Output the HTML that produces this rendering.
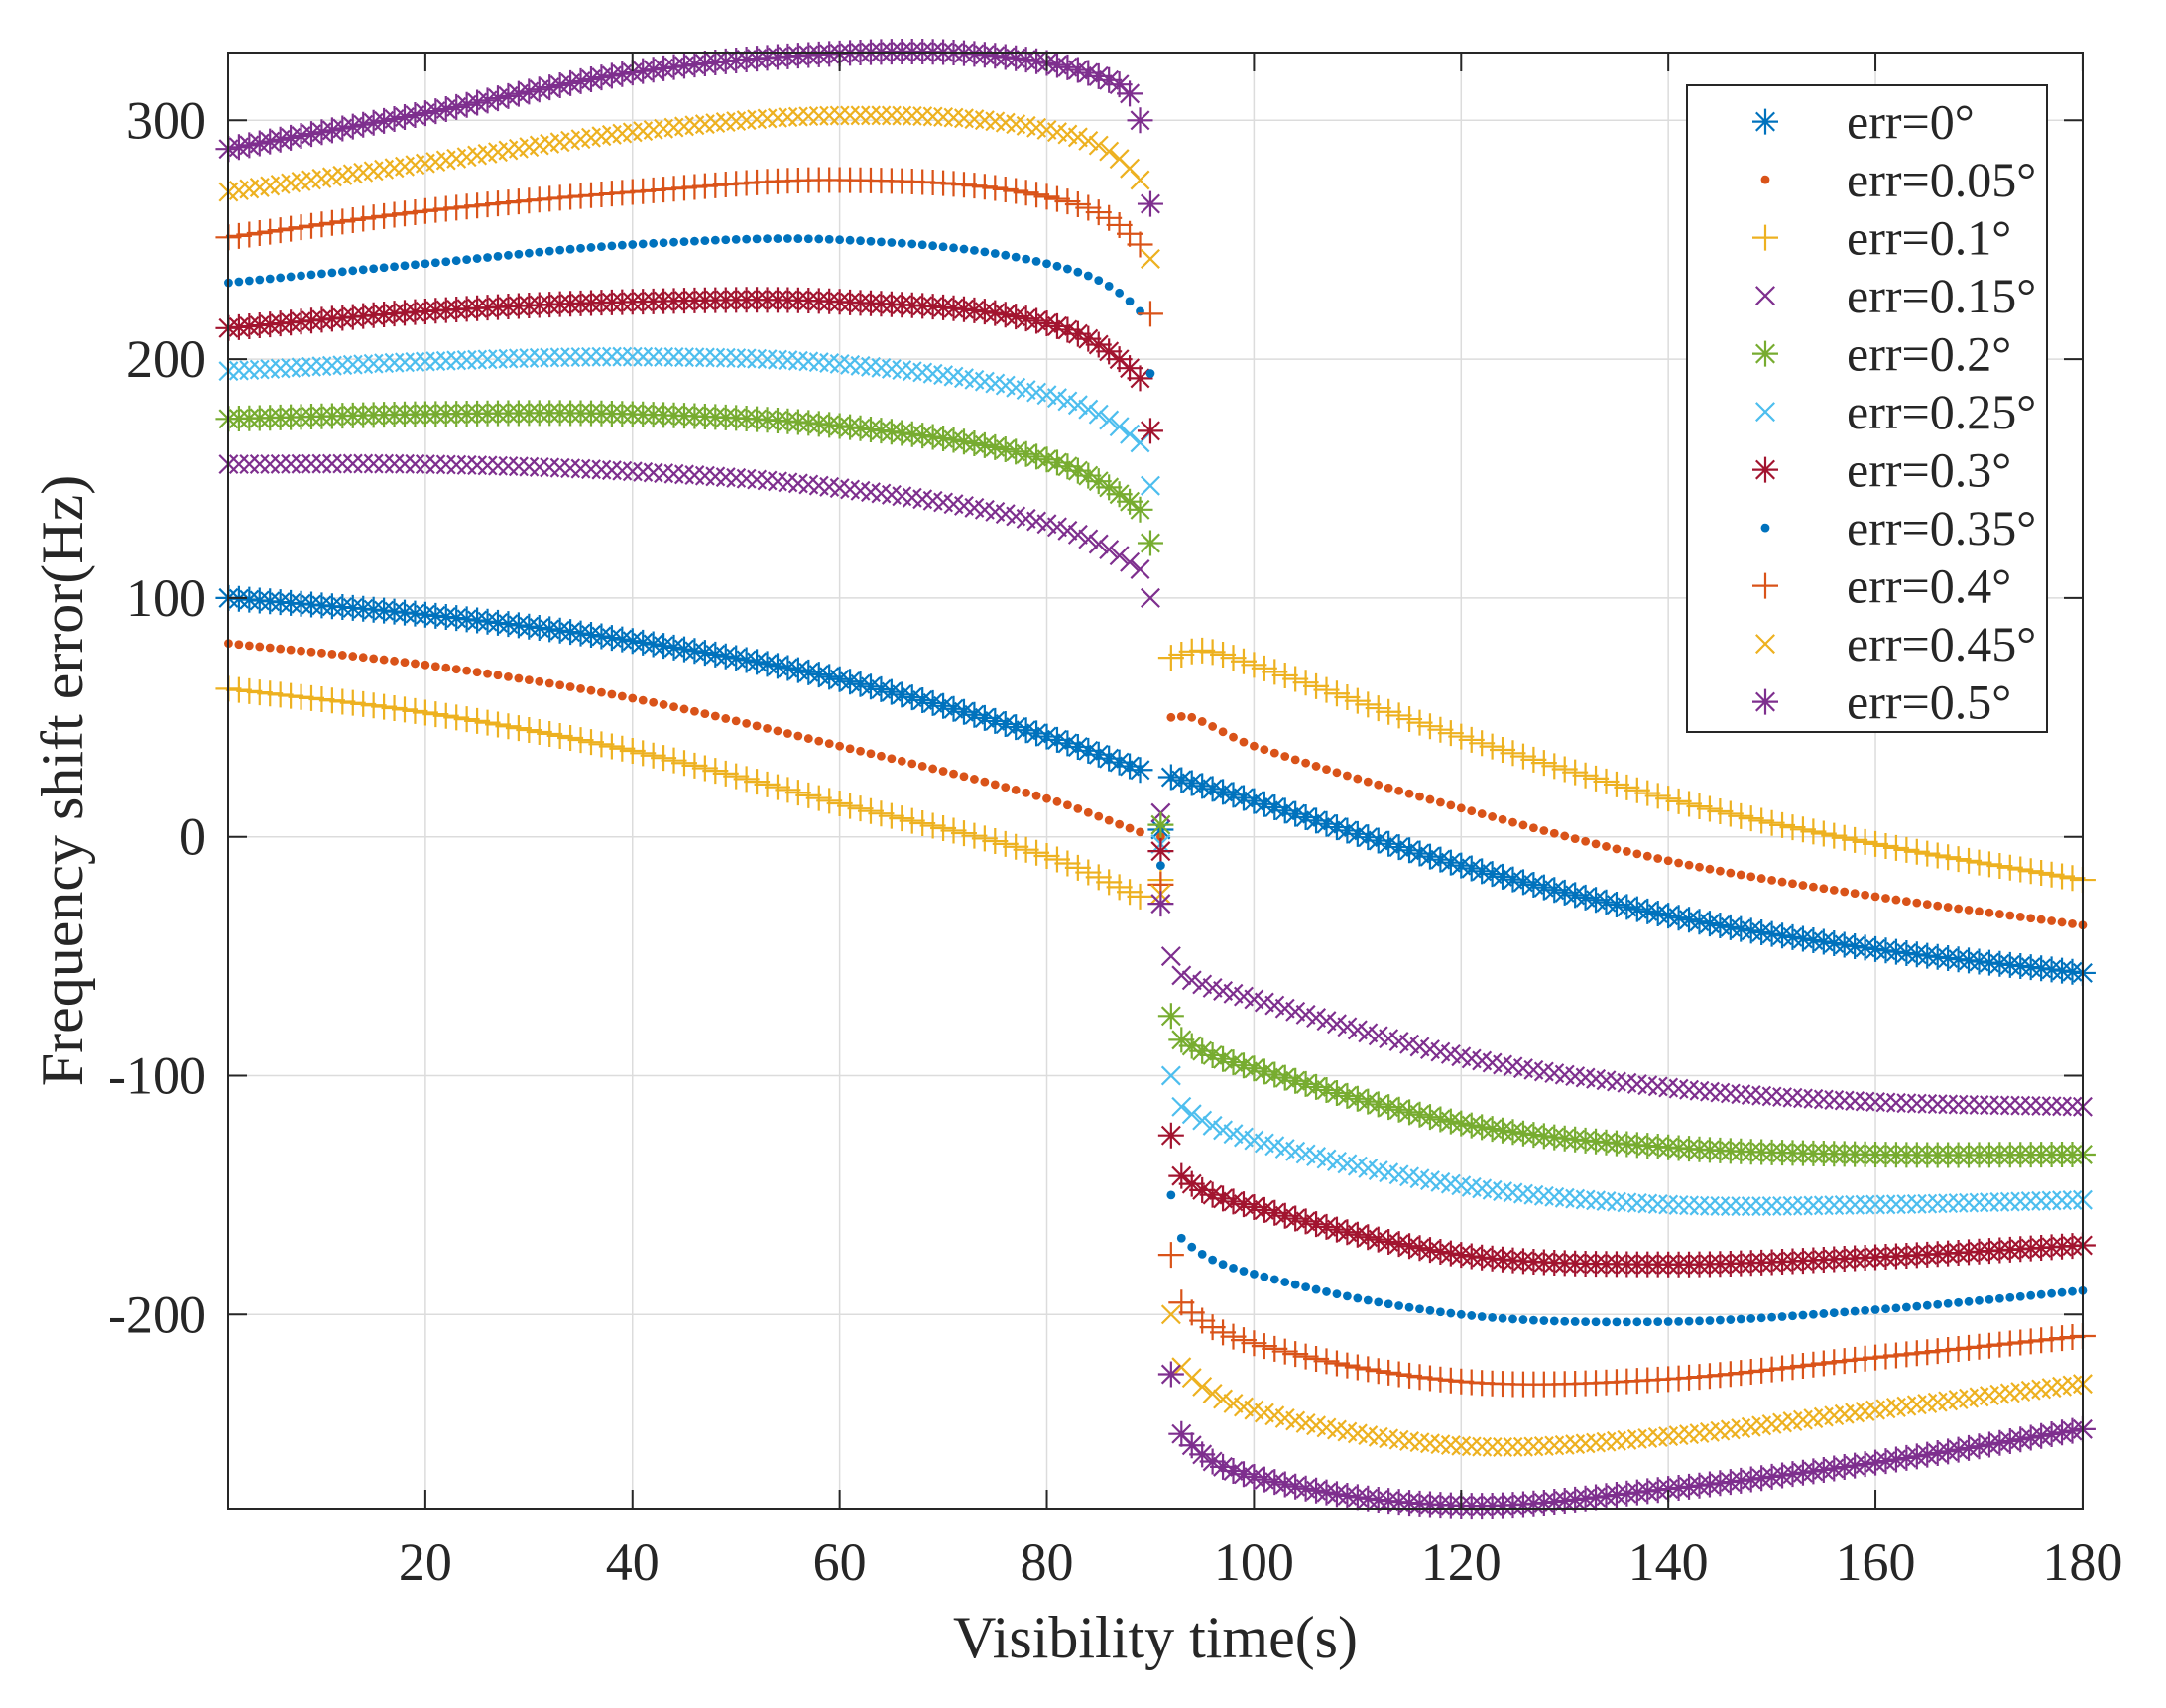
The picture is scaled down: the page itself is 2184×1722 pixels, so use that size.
<!DOCTYPE html>
<html><head><meta charset="utf-8"><style>
html,body{margin:0;padding:0;background:#fff}
svg{display:block}
text{font-family:"Liberation Serif",serif;fill:#262626}
</style></head><body>
<svg id="s" width="2184" height="1722" xmlns="http://www.w3.org/2000/svg"></svg>
<script>
const S=document.getElementById('s');
const L=230,R=2100,T=53,B=1521;
const X=t=>220+t*10.444;
const Y=v=>843.7-v*2.408;
let h='';
for(let t=20;t<=180;t+=20){const x=X(t);h+=`<line x1="${x}" y1="${T}" x2="${x}" y2="${B}" stroke="#dcdcdc" stroke-width="1.5"/>`;}
for(let v=-200;v<=300;v+=100){const y=Y(v);h+=`<line x1="${L}" y1="${y}" x2="${R}" y2="${y}" stroke="#dcdcdc" stroke-width="1.5"/>`;}
const C={b:'#0072BD',o:'#D95319',y:'#EDB120',p:'#7E2F8E',g:'#77AC30',c:'#4DBEEE',r:'#A2142F'};
function mk(type,x,y,col){
 const s=13,d=9.2;
 if(type=='.')return `<circle cx="${x}" cy="${y}" r="4.4" fill="${col}"/>`;
 let p='';
 if(type=='+'||type=='*')p+=`M${x-s},${y}H${x+s}M${x},${y-s}V${y+s}`;
 if(type=='x'||type=='*')p+=`M${x-d},${y-d}L${x+d},${y+d}M${x-d},${y+d}L${x+d},${y-d}`;
 return `<path d="${p}" stroke="${col}" stroke-width="2.2" fill="none"/>`;
}
const series=[
 ['*',C.b,[[1,100],[20,93],[40,82],[60,66],[80,42],[89,28]],[[92,25],[100,15],[120,-12],[140,-33],[160,-47],[180,-57]],3],
 ['.',C.o,[[1,81],[20,72],[40,58],[60,38],[80,16],[89,2]],[[92,50],[94,50],[100,38],[120,12],[140,-10],[160,-25],[180,-37]],0],
 ['+',C.y,[[1,62],[20,52],[40,36],[60,14],[80,-8],[89,-25]],[[92,75],[95,78],[100,72],[120,42],[140,16],[160,-3],[180,-18]],-18],
 ['x',C.p,[[1,156],[20,156],[40,153],[60,146],[80,131],[89,112],[90,100]],[[92,-50],[93,-58],[100,-68],[120,-92],[140,-105],[160,-111],[180,-113]],10],
 ['*',C.g,[[1,175],[20,177],[40,177],[60,172],[80,158],[89,137],[90,123]],[[92,-75],[93,-85],[100,-97],[120,-120],[140,-130],[160,-133],[180,-133]],5],
 ['x',C.c,[[1,195],[20,199],[40,201],[60,198],[80,185],[89,165],[90,147]],[[92,-100],[93,-113],[100,-127],[120,-146],[140,-154],[160,-154],[180,-152]],-3],
 ['*',C.r,[[1,213],[20,220],[40,224],[60,224],[80,215],[89,192],[90,170]],[[92,-125],[93,-142],[100,-155],[120,-175],[140,-179],[160,-176],[180,-171]],-6],
 ['.',C.b,[[1,232],[20,240],[40,248],[60,250],[80,240],[89,220],[90,194]],[[92,-150],[93,-168],[100,-183],[120,-200],[140,-203],[160,-198],[180,-190]],-12],
 ['+',C.o,[[1,251],[20,262],[40,270],[60,275],[80,268],[89,248],[90,219]],[[92,-175],[93,-195],[100,-212],[120,-228],[140,-227],[160,-218],[180,-209]],-20],
 ['x',C.y,[[1,270],[20,282],[40,295],[60,302],[80,296],[89,275],[90,242]],[[92,-200],[93,-222],[100,-240],[120,-255],[140,-251],[160,-240],[180,-229]],-24],
 ['*',C.p,[[1,288],[20,303],[40,320],[60,328],[75,327],[87,315],[89,300],[90,265]],[[92,-225],[93,-250],[100,-268],[120,-280],[140,-273],[160,-262],[180,-248]],-28],
];
function interp(k,t){
 for(let i=0;i<k.length-1;i++){
  if(t>=k[i][0]&&t<=k[i+1][0]){
   const p1=k[i],p2=k[i+1],p0=k[i-1]||p1,p3=k[i+2]||p2;
   const dx=p2[0]-p1[0],u=(t-p1[0])/dx;
   const m1=(p2[1]-p0[1])/(p2[0]-p0[0])*dx, m2=(p3[1]-p1[1])/(p3[0]-p1[0])*dx;
   const u2=u*u,u3=u2*u;
   return (2*u3-3*u2+1)*p1[1]+(u3-2*u2+u)*m1+(-2*u3+3*u2)*p2[1]+(u3-u2)*m2;
  }}
 return null;}
for(const [m,col,k1,k2,z] of series){
 for(let t=k1[0][0];t<=k1[k1.length-1][0];t++)h+=mk(m,X(t),Y(interp(k1,t)),col);
 h+=mk(m,X(91),Y(z),col);
 for(let t=92;t<=180;t++)h+=mk(m,X(t),Y(interp(k2,t)),col);
}
h+=`<rect x="${L}" y="${T}" width="${R-L}" height="${B-T}" fill="none" stroke="#262626" stroke-width="2"/>`;
for(let t=20;t<=180;t+=20){const x=X(t);h+=`<line x1="${x}" y1="${B}" x2="${x}" y2="${B-19}" stroke="#262626" stroke-width="2"/><line x1="${x}" y1="${T}" x2="${x}" y2="${T+19}" stroke="#262626" stroke-width="2"/>`;
 h+=`<text x="${x}" y="${B+72}" font-size="54" text-anchor="middle">${t}</text>`;}
for(let v=-200;v<=300;v+=100){const y=Y(v);h+=`<line x1="${L}" y1="${y}" x2="${L+19}" y2="${y}" stroke="#262626" stroke-width="2"/><line x1="${R}" y1="${y}" x2="${R-19}" y2="${y}" stroke="#262626" stroke-width="2"/>`;
 h+=`<text x="${L-22}" y="${y+18}" font-size="54" text-anchor="end">${v}</text>`;}
h+=`<text x="${(L+R)/2}" y="${B+150}" font-size="60" text-anchor="middle">Visibility time(s)</text>`;
h+=`<text transform="translate(83,${(T+B)/2}) rotate(-90)" font-size="60" text-anchor="middle">Frequency shift error(Hz)</text>`;
h+=`<rect x="1701" y="86" width="363" height="652" fill="#fff" stroke="#262626" stroke-width="2"/>`;
const labs=['0','0.05','0.1','0.15','0.2','0.25','0.3','0.35','0.4','0.45','0.5'];
series.forEach((s,i)=>{const y=122.6+i*58.5;h+=mk(s[0],1780,y,s[1]);h+=`<text x="1862" y="${y+17}" font-size="50">err=${labs[i]}°</text>`;});
S.innerHTML=h;
</script>
</body></html>
